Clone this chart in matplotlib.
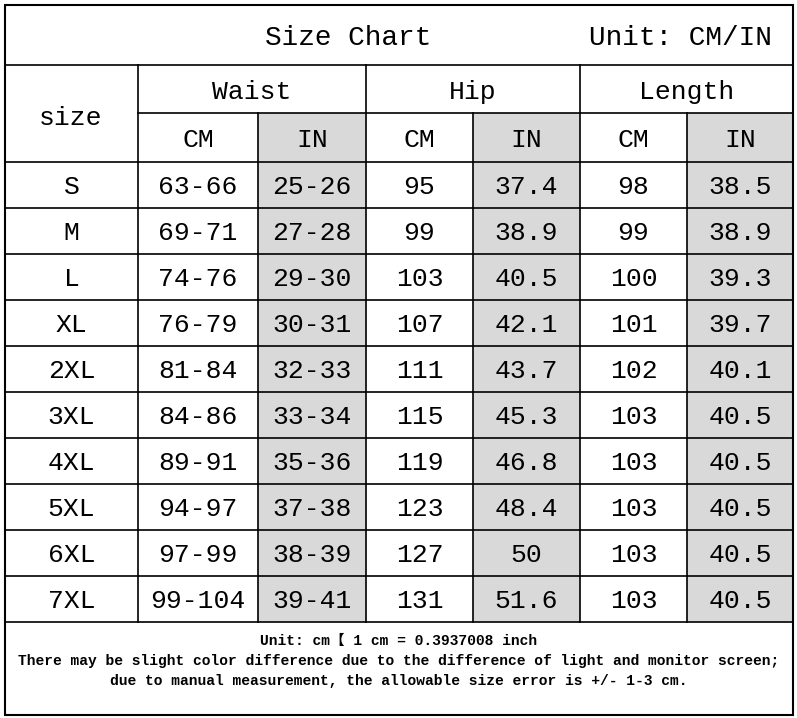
import matplotlib
matplotlib.use("Agg")
import matplotlib.pyplot as plt
from matplotlib.patches import Rectangle

sizes = ["S","M","L","XL","2XL","3XL","4XL","5XL","6XL","7XL"]
waist_cm = ["63-66","69-71","74-76","76-79","81-84","84-86","89-91","94-97","97-99","99-104"]
waist_in = ["25-26","27-28","29-30","30-31","32-33","33-34","35-36","37-38","38-39","39-41"]
hip_cm = ["95","99","103","107","111","115","119","123","127","131"]
hip_in = ["37.4","38.9","40.5","42.1","43.7","45.3","46.8","48.4","50","51.6"]
len_cm = ["98","99","100","101","102","103","103","103","103","103"]
len_in = ["38.5","38.9","39.3","39.7","40.1","40.5","40.5","40.5","40.5","40.5"]
groups = ["Waist","Hip","Length"]
units = ["CM","IN"]
footer = ["Unit: cm【 1 cm = 0.3937008 inch",
          "There may be slight color difference due to the difference of light and monitor screen;",
          "due to manual measurement, the allowable size error is +/- 1-3 cm."]

W, H = 797, 718
fig = plt.figure(figsize=(W/100, H/100), dpi=100)
ax = fig.add_axes([0, 0, 1, 1])
ax.set_xlim(0, W); ax.set_ylim(H, 0); ax.axis("off")
FONT = ["Liberation Mono", "Noto Sans CJK SC", "DejaVu Sans"]

xs = [5, 138, 258, 366, 473, 580, 687, 793]
y_title, y_h1, y_h2, y_d0 = 5, 65, 113, 162
rh = 46
y_foot = y_d0 + rh*len(sizes)
y_end = 715
gray = "#d9d9d9"

# gray IN columns
for g in range(3):
    x0, x1 = xs[2+2*g], xs[3+2*g]
    ax.add_patch(Rectangle((x0, y_h2), x1-x0, y_foot-y_h2, color=gray, lw=0))

lw = 1.2
def hl(y, x0=5, x1=793): ax.plot([x0, x1], [y, y], color="black", lw=lw)
def vl(x, y0, y1): ax.plot([x, x], [y0, y1], color="black", lw=lw)

ax.add_patch(Rectangle((5, 5), 788, 710, fill=False, ec="black", lw=1.5))
hl(y_h1); hl(y_h2, 138, 793)
for i in range(len(sizes)+1):
    hl(y_d0 + i*rh)
for i, x in enumerate(xs[1:-1], start=1):
    if i in (1, 3, 5):
        vl(x, y_h1, y_foot)
    else:
        vl(x, y_h2, y_foot)

def t(x, y, s, size=19, **kw):
    ax.text(x, y, s, ha="center", va="center", fontsize=size, family=FONT, **kw)

t(348, 38, "Size Chart", size=20)
t(680, 38, "Unit: CM/IN", size=20)
t(71, 118, "size")
for g, name in enumerate(groups):
    t((xs[1+2*g]+xs[3+2*g])/2, 92, name)
    for u in range(2):
        t((xs[1+2*g+u]+xs[2+2*g+u])/2, 140, units[u])
cols = [sizes, waist_cm, waist_in, hip_cm, hip_in, len_cm, len_in]
for c, col in enumerate(cols):
    cx = (xs[c]+xs[c+1])/2
    for r, v in enumerate(col):
        t(cx, y_d0 + rh*r + rh/2 + 2, v)
for i, line in enumerate(footer):
    t(399, 641 + 20*i, line, size=10.5, fontweight="bold")

fig.savefig("out.png", dpi=100)
